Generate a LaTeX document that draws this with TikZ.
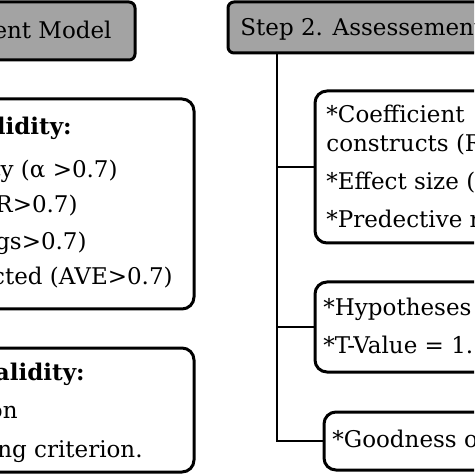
\documentclass[tikz,border=0pt]{standalone}
\usepackage{fontspec}
\setmainfont{DejaVu Serif}
\usetikzlibrary{fit}

\begin{document}
\begin{tikzpicture}[x=0.5pt, y=-0.5pt,
    box/.style={draw, line width=1.5pt, rounded corners=6pt, inner sep=0pt},
    head/.style={draw, line width=1.5pt, rounded corners=3pt, fill=headgray, inner sep=0pt},
    txt/.style={inner sep=0pt, font=\fontsize{11.5}{14}\selectfont},
    link/.style={line width=1.2pt}]
    \definecolor{headgray}{HTML}{A3A3A3}
    \useasboundingbox (0,0) rectangle (474,474);
    \clip (0,0) rectangle (474,474);

    % headers
    \node[head, fit={(-120,2) (135,60)}] (step1) {};
    \node[head, fit={(228,2) (620,53)}] (step2) {};
    \node[txt, anchor=base east] (step1txt) at (112,39) {ent Model};
    \node[txt, anchor=base west] (step2txt) at (240,36) {Step 2. Assessement};

    % left boxes
    \node[box, fit={(-60,99) (194,309)}] (conv) {};
    \node[box, fit={(-60,348) (194,472)}] (disc) {};

    \node[txt, anchor=base east, font=\fontsize{11.5}{14}\selectfont\bfseries] (convA) at (72,135) {lidity:};
    \node[txt, anchor=base east] (convB) at (118,178) {ty (α >0.7)};
    \node[txt, anchor=base east] (convC) at (78,213) {R>0.7)};
    \node[txt, anchor=base east] (convD) at (87,250) {gs>0.7)};
    \node[txt, anchor=base east] (convE) at (173,285) {cted (AVE>0.7)};

    \node[txt, anchor=base east, font=\fontsize{11.5}{14}\selectfont\bfseries] (discA) at (85,380) {alidity:};
    \node[txt, anchor=base east] (discB) at (18,418) {on};
    \node[txt, anchor=base east] (discC) at (143,457) {ng criterion.};

    % right boxes
    \node[box, fit={(315,91) (620,243)}] (coef) {};
    \node[box, fit={(315,282) (620,372)}] (hypo) {};
    \node[box, fit={(324,412) (620,470)}] (good) {};

    \node[txt, anchor=base west] (coefA) at (326,123) {*Coefficient};
    \node[txt, anchor=base west] (coefB) at (326,152) {constructs (R};
    \node[txt, anchor=base west] (coefC) at (326,190) {*Effect size (};
    \node[txt, anchor=base west] (coefD) at (326,228) {*Predective r};

    \node[txt, anchor=base west] (hypoA) at (323,315) {*Hypotheses};
    \node[txt, anchor=base west] (hypoB) at (323,353) {*T-Value = 1.};

    \node[txt, anchor=base west] (goodA) at (332,447) {*Goodness o};

    % connectors
    \coordinate (trunk) at (277,441);
    \draw[link] (step2.south -| trunk) -- (trunk) -- (good.west);
    \draw[link] (coef.west -| trunk) -- (coef.west);
    \draw[link] (hypo.west -| trunk) -- (hypo.west);
\end{tikzpicture}
\end{document}
